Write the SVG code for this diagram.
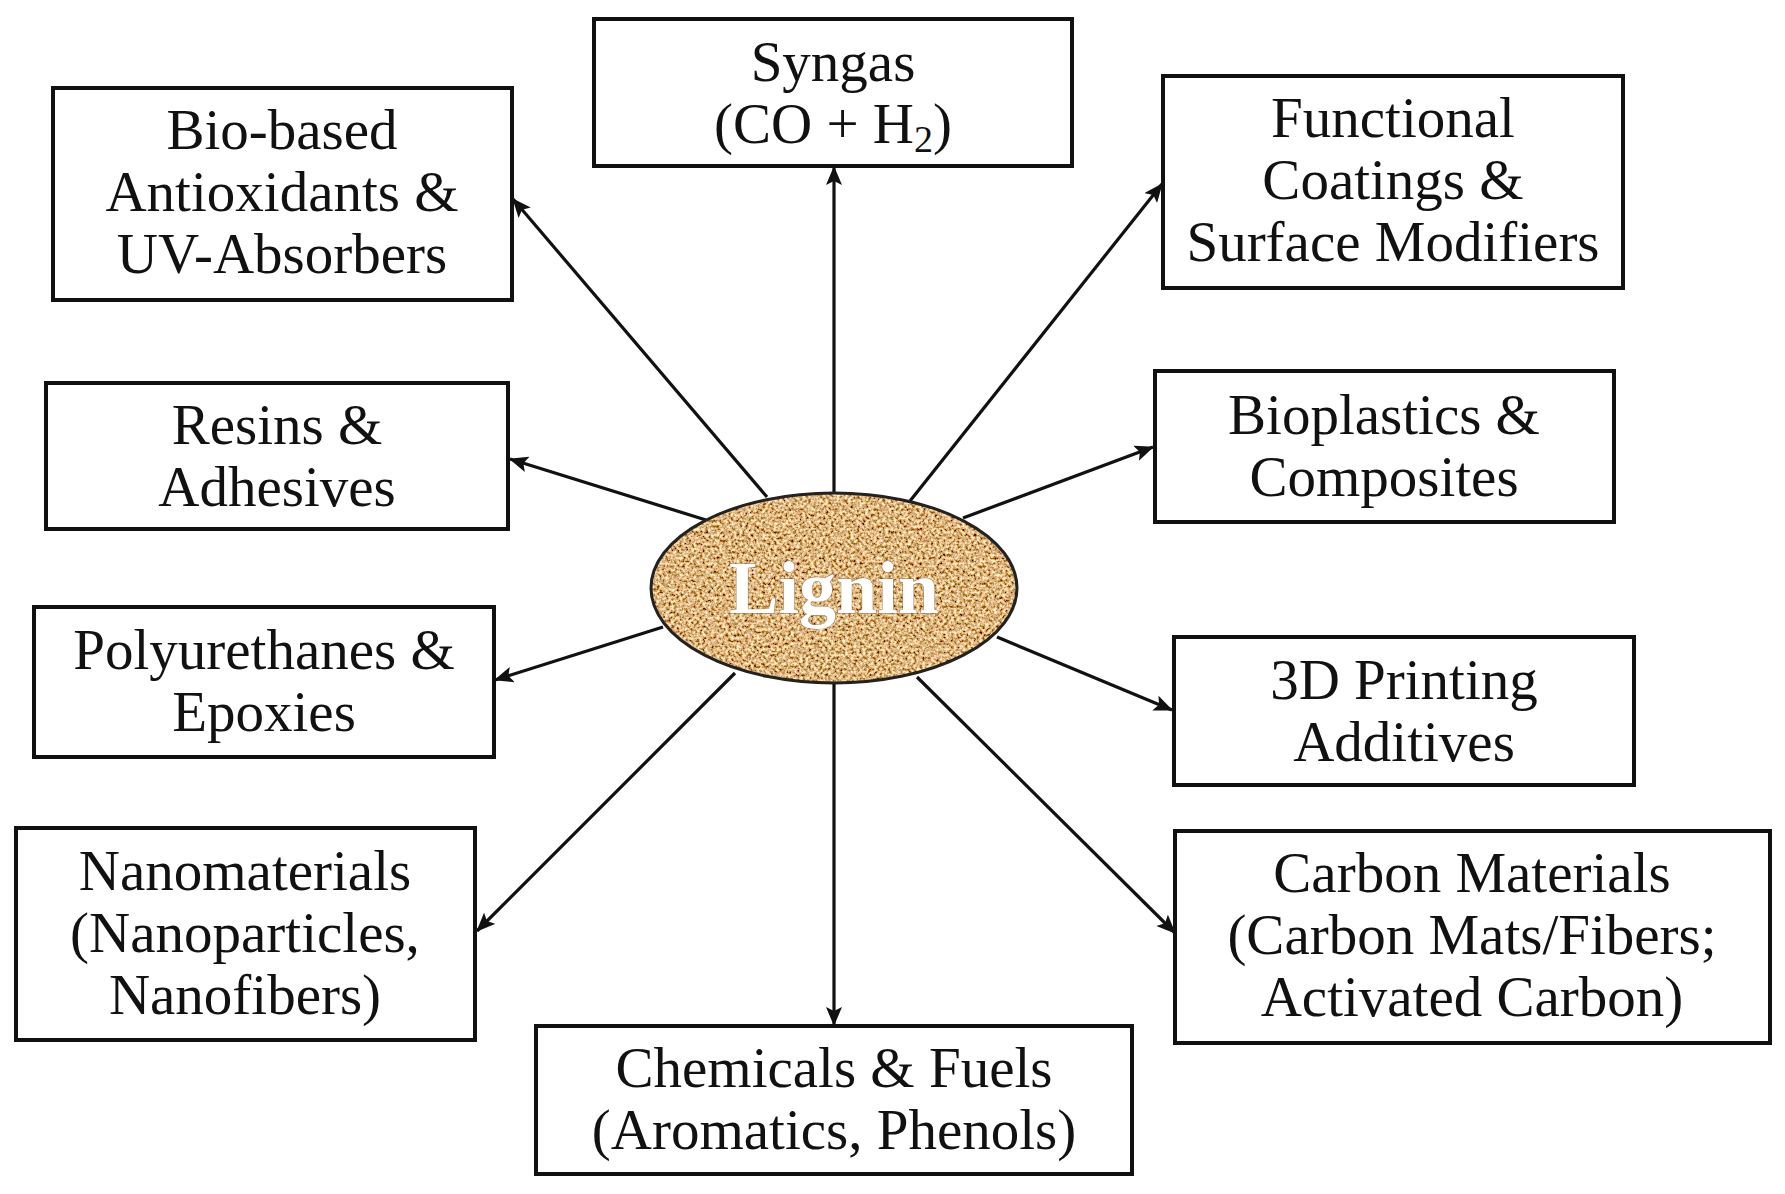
<svg xmlns="http://www.w3.org/2000/svg" width="1785" height="1194" viewBox="0 0 1785 1194">
  <style>
    .box { fill: #ffffff; stroke: #111111; stroke-width: 4; }
    .lbl { font-family: "Liberation Serif", "Times New Roman", serif; font-size: 57px; fill: #111111; text-anchor: middle; }
    .conn { stroke: #111111; stroke-width: 3.2; fill: none; marker-end: url(#arrow); }
    .core { font-family: "Liberation Serif", "Times New Roman", serif; font-size: 74px; font-weight: bold; fill: #ffffff; stroke: #8a7560; stroke-width: 1; paint-order: stroke; text-anchor: middle; }
  </style>
  <defs>
    <marker id="arrow" markerUnits="userSpaceOnUse" markerWidth="20" markerHeight="16" refX="18" refY="8" orient="auto">
      <path d="M0,0 L19,8 L0,16 L4,8 z" fill="#111111"/>
    </marker>
    <filter id="speckle" x="0" y="0" width="100%" height="100%">
      <feTurbulence type="fractalNoise" baseFrequency="0.35" numOctaves="3" seed="7" result="noise"/>
      <feColorMatrix in="noise" type="matrix" values="1.8 0 0 0 -0.18  1.7 0 0 0 -0.38  1.3 0 0 0 -0.42  0 0 0 0 1" result="col"/>
      <feComposite in="col" in2="SourceGraphic" operator="in"/>
    </filter>
  </defs>
  <rect width="1785" height="1194" fill="#ffffff"/>

  <g id="connectors">
    <line class="conn" x1="767" y1="497" x2="513" y2="199"/>
    <line class="conn" x1="834" y1="495" x2="834" y2="167"/>
    <line class="conn" x1="910" y1="501" x2="1162" y2="184"/>
    <line class="conn" x1="706" y1="520" x2="510" y2="459"/>
    <line class="conn" x1="963" y1="518" x2="1153" y2="447"/>
    <line class="conn" x1="663" y1="627" x2="495" y2="680"/>
    <line class="conn" x1="997" y1="637" x2="1172" y2="710"/>
    <line class="conn" x1="735" y1="673" x2="477" y2="931"/>
    <line class="conn" x1="917" y1="677" x2="1175" y2="933"/>
    <line class="conn" x1="834" y1="681" x2="834" y2="1025"/>
  </g>

  <g id="lignin">
    <ellipse cx="834" cy="588" rx="183" ry="95" fill="#b98252"/>
    <ellipse cx="834" cy="588" rx="183" ry="95" fill="#b98252" filter="url(#speckle)"/>
    <ellipse cx="834" cy="588" rx="183" ry="95" fill="none" stroke="#222222" stroke-width="3"/>
    <text class="core" x="834" y="613">Lignin</text>
  </g>

  <g id="antioxidants">
    <rect class="box" x="53" y="88" width="459" height="212"/>
    <text class="lbl" x="282" y="149">Bio-based</text>
    <text class="lbl" x="282" y="211">Antioxidants &amp;</text>
    <text class="lbl" x="282" y="273">UV-Absorbers</text>
  </g>

  <g id="syngas">
    <rect class="box" x="594" y="19" width="478" height="147"/>
    <text class="lbl" x="833" y="81">Syngas</text>
    <text class="lbl" x="833" y="143">(CO + H<tspan font-size="38" dy="9">2</tspan><tspan dy="-9">)</tspan></text>
  </g>

  <g id="coatings">
    <rect class="box" x="1163" y="76" width="460" height="212"/>
    <text class="lbl" x="1393" y="137">Functional</text>
    <text class="lbl" x="1393" y="199">Coatings &amp;</text>
    <text class="lbl" x="1393" y="261">Surface Modifiers</text>
  </g>

  <g id="resins">
    <rect class="box" x="46" y="383" width="462" height="146"/>
    <text class="lbl" x="277" y="444">Resins &amp;</text>
    <text class="lbl" x="277" y="506">Adhesives</text>
  </g>

  <g id="bioplastics">
    <rect class="box" x="1155" y="371" width="459" height="151"/>
    <text class="lbl" x="1384" y="434">Bioplastics &amp;</text>
    <text class="lbl" x="1384" y="496">Composites</text>
  </g>

  <g id="polyurethanes">
    <rect class="box" x="34" y="607" width="460" height="150"/>
    <text class="lbl" x="264" y="669">Polyurethanes &amp;</text>
    <text class="lbl" x="264" y="731">Epoxies</text>
  </g>

  <g id="printing">
    <rect class="box" x="1174" y="637" width="460" height="148"/>
    <text class="lbl" x="1404" y="699">3D Printing</text>
    <text class="lbl" x="1404" y="761">Additives</text>
  </g>

  <g id="nanomaterials">
    <rect class="box" x="16" y="828" width="459" height="212"/>
    <text class="lbl" x="245" y="890">Nanomaterials</text>
    <text class="lbl" x="245" y="952">(Nanoparticles,</text>
    <text class="lbl" x="245" y="1014">Nanofibers)</text>
  </g>

  <g id="carbon">
    <rect class="box" x="1175" y="831" width="595" height="212"/>
    <text class="lbl" x="1472" y="892">Carbon Materials</text>
    <text class="lbl" x="1472" y="954">(Carbon Mats/Fibers;</text>
    <text class="lbl" x="1472" y="1016">Activated Carbon)</text>
  </g>

  <g id="chemicals">
    <rect class="box" x="536" y="1026" width="596" height="148"/>
    <text class="lbl" x="834" y="1087">Chemicals &amp; Fuels</text>
    <text class="lbl" x="834" y="1149">(Aromatics, Phenols)</text>
  </g>
</svg>
